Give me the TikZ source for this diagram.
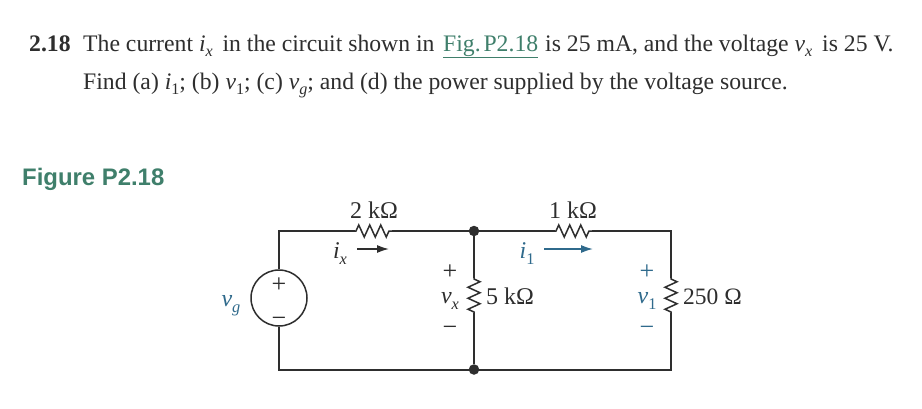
\documentclass[tikz,border=0pt]{standalone}
\usepackage{fontspec}
\setmainfont{Liberation Serif}
\setsansfont{Liberation Sans}
\usetikzlibrary{decorations.pathmorphing,arrows.meta}
\definecolor{ink}{HTML}{2E2E2E}
\definecolor{figgreen}{HTML}{3F7F6B}
\definecolor{varblue}{HTML}{2F6A8C}
\newcommand{\sbs}[1]{\raisebox{-0.25em}{\scalebox{0.68}{#1}}}
\newcommand{\blu}[1]{\textcolor{varblue}{#1}}
\tikzset{
  x=1pt,y=-1pt,
  wire/.style={draw=ink,line width=1.5pt},
  res/.style={draw=ink,line width=1.5pt,decorate,decoration={zigzag,segment length=11pt,amplitude=6pt,pre length=1pt,post length=1pt}},
  txt/.style={inner sep=0pt,anchor=base west,text=ink,font=\fontsize{23.7}{26}\selectfont},
  lab/.style={inner sep=0pt,anchor=base,text=ink,font=\fontsize{24}{26}\selectfont},
  sign/.style={inner sep=0pt,anchor=base,text=ink,font=\fontsize{26}{28}\selectfont},
  dot/.style={circle,fill=ink,inner sep=0pt,minimum size=10.5pt},
  src/.style={circle,draw=ink,line width=1.5pt,minimum size=56pt,inner sep=0pt},
  cur/.style={-{Latex[length=12pt,width=8pt]},line width=1.5pt}
}
\begin{document}
\begin{tikzpicture}
\useasboundingbox (0,0) rectangle (922,408);
\fill[white] (0,0) rectangle (922,408);
% problem text
\node[txt,font=\fontsize{23.7}{26}\selectfont\bfseries] (num) at (29,51) {2.18};
\node[txt] (l1a) at (83,51) {The current \textit{i}\sbs{\textit{x}}\, in the circuit shown in};
\node[txt,text=figgreen] (fig) at (443,51) {\underline{Fig.\hspace{0.12em}P2.18}};
\node[txt] (l1b) at (545,51) {is 25 mA, and the voltage \textit{v}\sbs{\textit{x}}\, is 25 V.};
\node[txt] (l2) at (83,89) {Find (a) \textit{i}\sbs{1}; (b) \textit{v}\sbs{1}; (c) \textit{v}\sbs{\textit{g}}; and (d) the power supplied by the voltage source.};
\node[txt,text=figgreen,font=\fontsize{23.9}{26}\selectfont\sffamily\bfseries] (figlab) at (22,185) {Figure P2.18};
% circuit corners
\coordinate (tl) at (279,231);
\coordinate (bl) at (279,370);
\coordinate (tr) at (671,231);
\coordinate (br) at (671,370);
\node[dot] (top) at (474,231) {};
\node[dot] (bot) at (474,369.5) {};
\node[src] (vs) at (279,298) {};
\coordinate (r2a) at (355,231);
\coordinate (r2b) at (392,231);
\coordinate (r1a) at (555,231);
\coordinate (r1b) at (592,231);
\coordinate (r5a) at (474,278);
\coordinate (r5b) at (474,313);
\coordinate (r25a) at (671,278);
\coordinate (r25b) at (671,313);
% wires
\draw[wire,line join=miter] (vs.north) -- (tl) -- (r2a);
\draw[wire] (r2b) -- (top);
\draw[wire] (top) -- (r1a);
\draw[wire] (r1b) -- (tr) -- (r25a);
\draw[wire] (r25b) -- (br) -- (bl) -- (vs.south);
\draw[wire] (top) -- (r5a);
\draw[wire] (r5b) -- (bot);
\draw[res] (r2a) -- (r2b);
\draw[res] (r1a) -- (r1b);
\draw[res] (r5a) -- (r5b);
\draw[res] (r25a) -- (r25b);
% source polarity
\node[sign] (sp) at (279,292) {+};
\node[sign] (sm) at (279,326) {\textminus};
% labels
\node[lab] (l2k) at (374,218) {2 kΩ};
\node[lab] (l1k) at (573,218) {1 kΩ};
\node[lab,anchor=base west] (l5k) at (486,304) {5 kΩ};
\node[lab,anchor=base west,font=\fontsize{23.5}{26}\selectfont] (l250) at (683,304) {250 Ω};
\node[lab] (lvg) at (231,306) {\blu{\textit{v}\sbs{\textit{g}}}};
\node[lab] (lix) at (340,258) {\textit{i}\sbs{\textit{x}}};
\node[lab] (li1) at (527,258) {\blu{\textit{i}\sbs{1}}};
\node[lab] (lvx) at (450,303) {\textit{v}\sbs{\textit{x}}};
\node[lab] (lv1) at (647,303) {\blu{\textit{v}\sbs{1}}};
\node[sign] (vxp) at (450,279) {+};
\node[sign] (vxm) at (450,335) {\textminus};
\node[sign] (v1p) at (647,279) {\blu{+}};
\node[sign] (v1m) at (647,335) {\blu{\textminus}};
% current arrows
\coordinate (ixa) at (357,249);
\coordinate (ixb) at (389,249);
\coordinate (i1a) at (544,249);
\coordinate (i1b) at (593,249);
\draw[cur,ink] (ixa) -- (ixb);
\draw[cur,varblue] (i1a) -- (i1b);
\end{tikzpicture}
\end{document}
